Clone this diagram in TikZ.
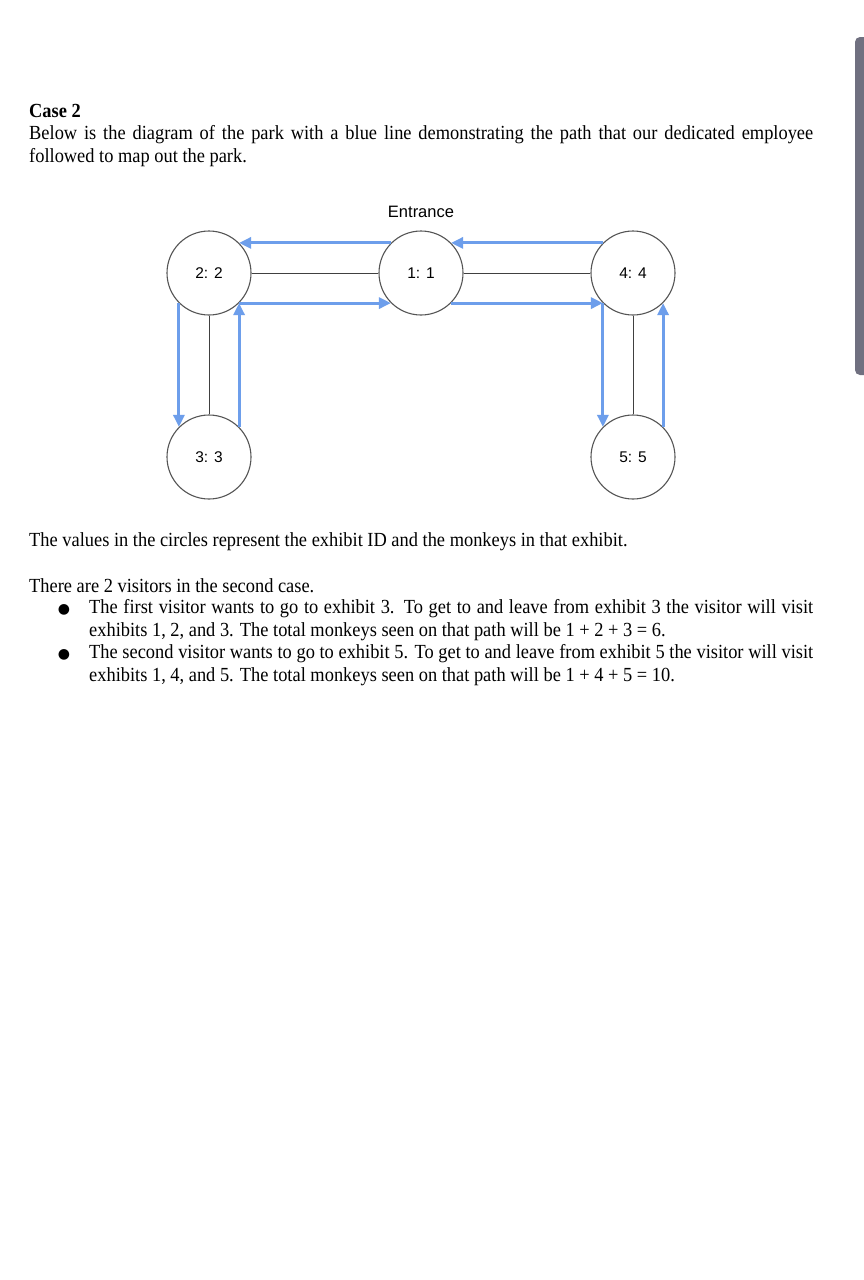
\documentclass[tikz,border=0pt]{standalone}
\usepackage{fontspec}
\setmainfont{Liberation Serif}[FakeStretch=0.92]
\newfontfamily\diagfont{Liberation Sans}
\newfontfamily\symfont{DejaVu Sans}
\usepackage{tikz}
\usetikzlibrary{arrows.meta, positioning, calc}
\definecolor{PathBlue}{RGB}{109, 158, 235}
\definecolor{RingGray}{RGB}{85, 85, 85}
\definecolor{BarGray}{RGB}{112, 112, 128}

\begin{document}
\begin{tikzpicture}[x=1pt, y=-1pt,
  ex/.style={circle, draw=RingGray, line width=1.1pt, fill=white,
             minimum size=84pt, inner sep=0pt,
             font=\diagfont\fontsize{15.5}{18}\selectfont},
  rd/.style={-, line width=0.9pt, color=black!75},
  bl/.style={-{Triangle[length=12pt, width=11pt]}, line width=3pt, color=PathBlue},
  tx/.style={inner sep=0pt, anchor=north west, font=\fontsize{20}{23}\selectfont},
  bu/.style={inner sep=0pt, anchor=base, font=\symfont\fontsize{14}{14}\selectfont}
]
  \useasboundingbox (0,0) rectangle (864,1280);
  \fill[white] (0,0) rectangle (864,1280);
  \fill[BarGray, rounded corners=5pt] (855,37) rectangle (880,375);

  \node[tx, font=\bfseries\fontsize{20}{23}\selectfont] (ttl) at (29,104.5) {Case 2};
  \node[tx, text width=784pt, align=justify] (intro) at (29,125.5)
    {Below is the diagram of the park with a blue line demonstrating the path that our dedicated employee\linebreak followed to map out the park.};

  \node[ex] (n2) at (209,273) {2: 2};
  \node[ex] (n1) at (421,273) {1: 1};
  \node[ex] (n4) at (633,273) {4: 4};
  \node[ex] (n3) at (209,457) {3: 3};
  \node[ex] (n5) at (633,457) {5: 5};
  \node[font=\diagfont\fontsize{16.5}{19}\selectfont] (ent) at (421,212) {Entrance};

  \draw[rd] (n2)--(n1);
  \draw[rd] (n1)--(n4);
  \draw[rd] (n2)--(n3);
  \draw[rd] (n4)--(n5);

  \draw[bl] (n4.135)--(n1.45);
  \draw[bl] (n1.135)--(n2.45);
  \draw[bl] (n2.225)--(n3.135);
  \draw[bl] (n3.45)--(n2.315);
  \draw[bl] (n2.315)--(n1.225);
  \draw[bl] (n1.315)--(n4.225);
  \draw[bl] (n4.225)--(n5.135);
  \draw[bl] (n5.45)--(n4.315);

  \node[tx] (note) at (29,532) {The values in the circles represent the exhibit ID and the monkeys in that exhibit.};
  \node[tx] (cnt) at (29,578) {There are 2 visitors in the second case.};
  \node[bu] (b1) at (64,613) {●};
  \node[tx, text width=724pt, align=justify] (v1) at (89,599.5)
    {The first visitor wants to go to exhibit 3. To get to and leave from exhibit 3 the visitor will visit\linebreak exhibits 1, 2, and 3. The total monkeys seen on that path will be 1 + 2 + 3 = 6.};
  \node[bu] (b2) at (64,658) {●};
  \node[tx, text width=724pt, align=justify] (v2) at (89,644.5)
    {The second visitor wants to go to exhibit 5. To get to and leave from exhibit 5 the visitor will visit\linebreak exhibits 1, 4, and 5. The total monkeys seen on that path will be 1 + 4 + 5 = 10.};
\end{tikzpicture}
\end{document}
